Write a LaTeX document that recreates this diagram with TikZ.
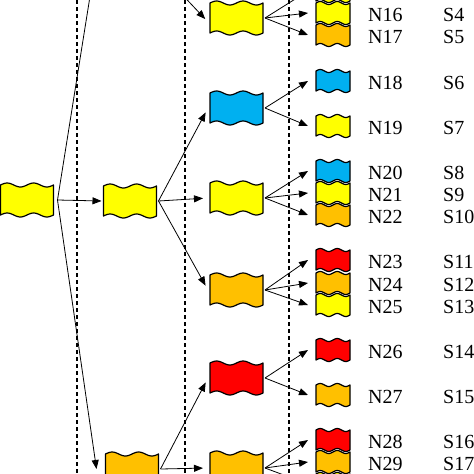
\documentclass[tikz,border=0pt]{standalone}
\usepackage{fontspec}
\setmainfont{Liberation Serif}
\usetikzlibrary{arrows.meta}

\definecolor{wyellow}{RGB}{255,255,0}
\definecolor{worange}{RGB}{255,192,0}
\definecolor{wblue}{RGB}{0,176,240}
\definecolor{wred}{RGB}{255,0,0}

% wavy flag: centre x, centre y, width, height, amplitude
\newcommand{\flagpath}[5]{%
  ({#1-#3/2},{#2-#4/2})
  -- plot[variable=\t,domain=0:1,samples=33] ({#1-#3/2+#3*\t},{#2-#4/2-#5*sin(720*\t)})
  -- plot[variable=\t,domain=0:1,samples=33] ({#1+#3/2-#3*\t},{#2+#4/2-#5*sin(720*(1-\t))})
  -- cycle}

\begin{document}
\begin{tikzpicture}[x=1pt,y=-1pt,>={Triangle[length=9pt,width=7pt]},line join=round]
      \tikzstyle{bigflag}=[inner sep=0pt,minimum width=53pt,minimum height=30pt,outer xsep=2pt]
      \tikzstyle{smallflag}=[inner sep=0pt,minimum width=34pt,minimum height=20pt,outer xsep=8pt]
      \tikzstyle{wave}=[draw=black,line width=1.2pt]
      \tikzstyle{edge}=[->,line width=0.8pt]
      \tikzstyle{lab}=[anchor=base west,inner sep=0pt,font=\fontsize{20}{24}\selectfont]
      \useasboundingbox (0,0) rectangle (474,474);
      \clip (0,0) rectangle (474,474);

      % stage borders
      \foreach \x in {77,185,289}
        \draw[dash pattern=on 4pt off 3pt,line width=1.2pt] (\x,0) -- (\x,474);

      % root
      \fill[wyellow,wave] \flagpath{27}{200}{53}{30}{2};
      \node[bigflag,outer xsep=4pt] (R) at (27,200) {};

      % big flags
      \foreach \name/\x/\y/\col in {A2/130/201/wyellow, A3/132/469/worange,
          B1/236.5/18/wyellow, B2/236.5/108/wblue, B3/236.5/198/wyellow,
          B4/236.5/290/worange, B5/236.5/378/wred, B6/236.5/468/worange} {
        \fill[\col,wave] \flagpath{\x}{\y}{53}{30}{2};
        \node[bigflag] (\name) at (\x,\y) {};
      }

      % small flags, cut off at the edges
      \foreach \name/\y/\col in {N15/-9/wyellow, N30/484/wyellow} {
        \fill[\col,wave] \flagpath{333}{\y}{34}{20}{1.5};
        \node[smallflag] (\name) at (333,\y) {};
      }

      % small flags with labels
      \foreach \name/\y/\col/\s in {N16/13/wyellow/S4, N17/35/worange/S5, N18/81/wblue/S6,
          N19/126/wyellow/S7, N20/171/wblue/S8, N21/193/wyellow/S9, N22/215/worange/S10,
          N23/260/wred/S11, N24/283/worange/S12, N25/305/wyellow/S13, N26/350/wred/S14,
          N27/395/worange/S15, N28/440/wred/S16, N29/462/worange/S17} {
        \fill[\col,wave] \flagpath{333}{\y}{34}{20}{1.5};
        \node[smallflag] (\name) at (333,\y) {};
        \node[lab] (L-\name) at (368,\y+8) {\name};
        \node[lab] (L-\s) at (443,\y+8) {\s};
      }

      \coordinate (a1in) at (99,-60);
      \coordinate (a1out) at (159,-30);

      \draw[edge] (R.east) -- (a1in);
      \draw[edge] (R.east) -- (A2.west);
      \draw[edge] (R.east) -- ([xshift=-7pt]A3.west);
      \draw[edge,shorten >=4pt] (a1out) -- ([yshift=-4pt]B1.west);
      \foreach \from/\to in {A2/B2, A2/B3, A2/B4, A3/B5, A3/B6}
        \draw[edge,shorten >=5pt] (\from.east) -- (\to.west);
      \foreach \from/\to in {B1/N15, B1/N16, B1/N17, B2/N18, B2/N19, B3/N20, B3/N21, B3/N22,
          B4/N23, B4/N24, B4/N25, B5/N26, B5/N27, B6/N28, B6/N29, B6/N30}
        \draw[edge] (\from.east) -- (\to.west);
    \end{tikzpicture}
\end{document}
